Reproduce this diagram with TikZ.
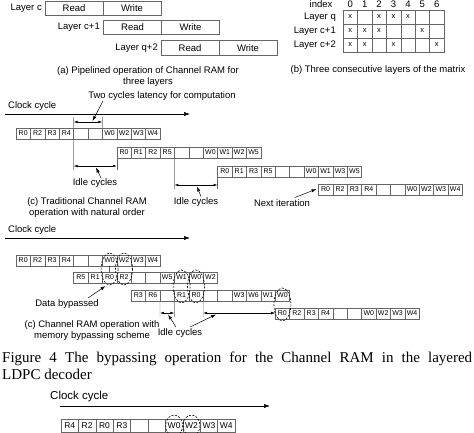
\documentclass[tikz,border=0pt]{standalone}
\usepackage{fontspec}
\setmainfont{Liberation Sans}
\newfontfamily\capfont{Liberation Serif}
\usetikzlibrary{arrows.meta,calc}

\tikzset{
  cellbox/.style={draw=black!60, line width=0.4pt, minimum height=11pt, inner sep=0pt, outer sep=0pt, anchor=north west, font=\fontsize{7}{8}\selectfont},
  bigbox/.style={cellbox, minimum height=14.5pt, font=\fontsize{9.5}{11}\selectfont},
  mbox/.style={cellbox, minimum height=14pt, font=\fontsize{7.5}{8}\selectfont},
  lbl/.style={inner sep=0pt, font=\fontsize{9.5}{11}\selectfont},
  clockarrow/.style={line width=0.5pt, -{Latex[length=6pt,width=4pt]}},
  dimline/.style={line width=0.5pt, {Latex[length=4pt,width=2.6pt]}-{Latex[length=4pt,width=2.6pt]}},
  leader/.style={line width=0.5pt, -{Latex[length=5pt,width=3.2pt]}},
  extline/.style={draw=black!60, line width=0.4pt},
  bypass/.style={line width=0.6pt, dash pattern=on 2pt off 1.5pt},
}

\newcommand\cellrow[6][]{%
  \foreach \lab [count=\i from 0] in {#6} {%
    \node[cellbox,#1,minimum width=#5pt] (#2-\i) at ({#3+\i*#5},#4) {\lab};
  }}

\begin{document}
\begin{tikzpicture}[x=1pt,y=-1pt]
\useasboundingbox (0,0) rectangle (474,432);

% ---------- (a) pipelined operation ----------
\node[lbl, anchor=east] (la1) at (42,8) {Layer c};
\node[bigbox, minimum width=58pt] (a1r) at (45,1) {Read};
\node[bigbox, minimum width=58pt] (a1w) at (103,1) {Write};
\node[lbl, anchor=east] (la2) at (100,27.5) {Layer c+1};
\node[bigbox, minimum width=58pt] (a2r) at (103.5,20) {Read};
\node[bigbox, minimum width=58pt] (a2w) at (161.5,20) {Write};
\node[lbl, anchor=east] (la3) at (158,48) {Layer q+2};
\node[bigbox, minimum width=58pt] (a3r) at (161,40.5) {Read};
\node[bigbox, minimum width=58pt] (a3w) at (219,40.5) {Write};
\node[lbl, align=center] (capa) at (148,76.5) {(a) Pipelined operation of Channel RAM for\\three layers};

% ---------- (b) matrix ----------
\node[lbl] (idx) at (321,4.5) {index};
\foreach \c in {0,...,6} {
  \node[lbl] (hd-\c) at ({343+14.43*(\c+0.5)},4.5) {\c};
}
\node[lbl, anchor=east] (lm1) at (336,17) {Layer q};
\node[lbl, anchor=east] (lm2) at (336,31) {Layer c+1};
\node[lbl, anchor=east] (lm3) at (336,45) {Layer c+2};
\cellrow[mbox]{Mq}{343}{10}{14.43}{x,,x,x,x,,}
\cellrow[mbox]{Mca}{343}{24}{14.43}{x,x,x,,,x,}
\cellrow[mbox]{Mcb}{343}{38}{14.43}{x,x,,x,,,x}
\node[lbl] (capb) at (378,70) {(b) Three consecutive layers of the matrix};

% ---------- (c) traditional ----------
\node[lbl] (twolab) at (162,96) {Two cycles latency for computation};
\node[lbl, anchor=west] (clk1) at (8,106) {Clock cycle};
\coordinate (ck1a) at (5,114);
\coordinate (ck1b) at (190,114);
\draw[clockarrow] (ck1a) -- (ck1b);

\cellrow{T1}{16}{128}{14.4}{R0,R2,R3,R4,,,W0,W2,W3,W4}
\cellrow{T2}{116.8}{147}{14.4}{R0,R1,R2,R5,,,W0,W1,W2,W5}
\cellrow{T3}{217.6}{166}{14.4}{R0,R1,R3,R5,,,W0,W1,W3,W5}
\cellrow{T4}{318.4}{184}{14.4}{R0,R2,R3,R4,,,W0,W2,W3,W4}

% latency dimension
\coordinate (latA) at (73.6,117);
\coordinate (latB) at (102.4,117);
\draw[extline] (latA) -- (T1-4.north west);
\draw[extline] (latB) -- (T1-6.north west);
\coordinate (latDA) at (73.6,122);
\coordinate (latDB) at (102.4,122);
\draw[dimline] (latDA) -- (latDB);
\coordinate (latLs) at (103,101);
\coordinate (latLe) at (92.5,121);
\draw[leader] (latLs) -- (latLe);

% idle 1
\coordinate (idA1) at (73.6,170);
\coordinate (idB1) at (116.8,170);
\draw[extline] (T1-4.south west) -- (idA1);
\draw[extline] (T2-0.south west) -- (idB1);
\coordinate (idDA1) at (73.6,166);
\coordinate (idDB1) at (116.8,166);
\draw[dimline] (idDA1) -- (idDB1);
\node[lbl] (idle1) at (95,183.5) {Idle cycles};
\coordinate (idL1s) at (101,178);
\coordinate (idL1e) at (96,167.5);
\draw[leader] (idL1s) -- (idL1e);

% idle 2
\coordinate (idA2) at (174.4,189);
\coordinate (idB2) at (217.6,189);
\draw[extline] (T2-4.south west) -- (idA2);
\draw[extline] (T3-0.south west) -- (idB2);
\coordinate (idDA2) at (174.4,185);
\coordinate (idDB2) at (217.6,185);
\draw[dimline] (idDA2) -- (idDB2);
\node[lbl] (idle2) at (196,202) {Idle cycles};
\coordinate (idL2s) at (201,196.5);
\coordinate (idL2e) at (197,186.5);
\draw[leader] (idL2s) -- (idL2e);

% next iteration
\node[lbl] (nextit) at (282,203.5) {Next iteration};
\coordinate (nxs) at (295,197.5);
\coordinate (nxe) at (316.5,189);
\draw[leader] (nxs) -- (nxe);

\node[lbl, align=center] (capc) at (87,208) {(c) Traditional Channel RAM\\operation with natural order};

% ---------- (d) bypassing ----------
\node[lbl, anchor=west] (clk2) at (8,230) {Clock cycle};
\coordinate (ck2a) at (5,238);
\coordinate (ck2b) at (190,238);
\draw[clockarrow] (ck2a) -- (ck2b);

\cellrow{B1}{16}{255}{14.4}{R0,R2,R3,R4,,,W0,W2,W3,W4}
\cellrow{B2}{73.6}{272}{14.4}{R5,R1,R0,R2,,,W5,W1,W0,W2}
\cellrow{B3}{131.2}{290}{14.4}{R3,R6,,R1,R0,,,W3,W6,W1,W0}
\cellrow{B4}{275.2}{308}{14.4}{R0,R2,R3,R4,,,W0,W2,W3,W4}

% bypass ellipses
\draw[bypass] ($(B1-6.center)!0.5!(B2-2.center)$) ellipse [x radius=8.5, y radius=16];
\draw[bypass] ($(B1-7.center)!0.5!(B2-3.center)$) ellipse [x radius=8.5, y radius=16];
\draw[bypass] ($(B2-7.center)!0.5!(B3-3.center)$) ellipse [x radius=8.5, y radius=16.5];
\draw[bypass] ($(B2-8.center)!0.5!(B3-4.center)$) ellipse [x radius=8.5, y radius=16.5];
\draw[bypass] ($(B3-10.center)!0.5!(B4-0.center)$) ellipse [x radius=8.5, y radius=16.5];
\draw[line width=0.5pt] (B1-6.south) -- (B2-2.north);

% data bypassed
\node[lbl] (databy) at (67,304) {Data bypassed};
\coordinate (dbs) at (88,298);
\coordinate (dbe) at (105.5,286);
\draw[leader] (dbs) -- (dbe);

% idle dimensions
\coordinate (bA1) at (160,317);
\coordinate (bB1) at (174.4,317);
\coordinate (bC1) at (203.2,317);
\draw[extline] (B3-2.south west) -- (bA1);
\draw[extline] (B3-2.south east) -- (bB1);
\draw[extline] (B3-5.south west) -- (bC1);
\coordinate (bdA) at (160,313);
\coordinate (bdB) at (174.4,313);
\coordinate (bdC) at (203.2,313);
\coordinate (bdD) at (275.2,313);
\draw[dimline] (bdA) -- (bdB);
\draw[dimline] (bdC) -- (bdD);
\node[lbl] (idle3) at (180,333) {Idle cycles};
\coordinate (bl1s) at (176,327);
\coordinate (bl1e) at (168,314.5);
\draw[leader] (bl1s) -- (bl1e);
\coordinate (bl2s) at (190,327);
\coordinate (bl2e) at (216,314.5);
\draw[leader] (bl2s) -- (bl2e);

\node[lbl, align=center] (capd) at (92,330.5) {(c) Channel RAM operation with\\memory bypassing scheme};

% ---------- figure caption ----------
\node[inner sep=0pt, anchor=west, font=\capfont\fontsize{15}{17}\selectfont] (cap1) at (2,359)
  {\makebox[470pt][s]{Figure 4 The bypassing operation for the Channel RAM in the layered}};
\node[inner sep=0pt, anchor=west, font=\capfont\fontsize{15}{17}\selectfont] (cap2) at (2,374.5) {LDPC decoder};

% ---------- bottom fragment ----------
\node[inner sep=0pt, anchor=west, font=\fontsize{11.5}{13}\selectfont] (clk3) at (50,397) {Clock cycle};
\coordinate (ck3a) at (60,406);
\coordinate (ck3b) at (270,406);
\draw[clockarrow] (ck3a) -- (ck3b);
\cellrow[minimum height=13pt, font=\fontsize{8.5}{9}\selectfont]{BB}{61}{419}{17.4}{R4,R2,R0,R3,,,W0,W2,W3,W4}
\draw[bypass] (BB-6.center) ellipse [x radius=8.5, y radius=10.5];
\draw[bypass] (BB-7.center) ellipse [x radius=8.5, y radius=10.5];

\end{tikzpicture}
\end{document}
